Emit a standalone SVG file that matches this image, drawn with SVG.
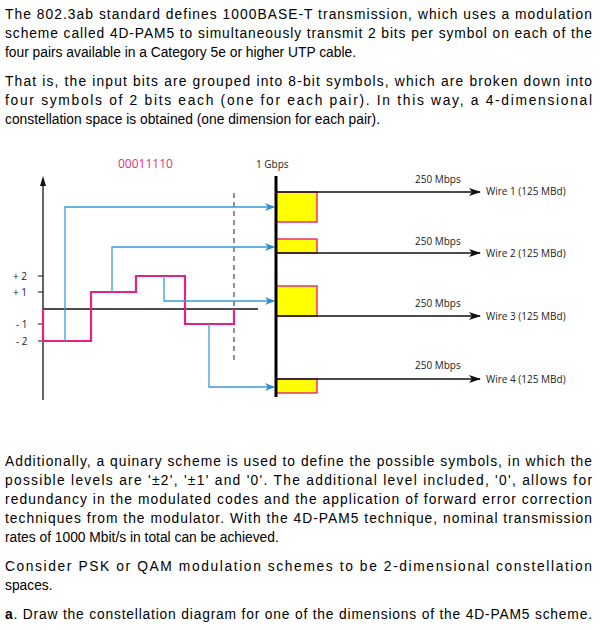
<svg xmlns="http://www.w3.org/2000/svg" width="606" height="630" viewBox="0 0 606 630">
<style>
.t{font-family:"Liberation Sans",Arial,sans-serif;font-size:13.8px;fill:#000}
.s{font-family:"Open Sans","Liberation Sans",sans-serif;font-size:10px;fill:#222}
.b{stroke:#3a9ad6;stroke-width:1.3;fill:none}
.w{stroke:#111;stroke-width:1.3;fill:none}
.y{fill:#ffff00;stroke:#e8307a;stroke-width:1.5}
</style>
<defs>
<marker id="ab" markerWidth="10" markerHeight="8" refX="9" refY="4" orient="auto" markerUnits="userSpaceOnUse"><path d="M0,0L10,4L0,8L3,4z" fill="#2a8ccc"/></marker>
<marker id="ak" markerWidth="12" markerHeight="8" refX="11" refY="4" orient="auto" markerUnits="userSpaceOnUse"><path d="M0,0L12,4L0,8L3,4z" fill="#111"/></marker>
</defs>
<rect width="606" height="630" fill="#fff"/>
<g id="text">
<text class="t" x="5" y="19" textLength="587" lengthAdjust="spacing">The 802.3ab standard defines 1000BASE-T transmission, which uses a modulation</text>
<text class="t" x="5" y="38" textLength="587" lengthAdjust="spacing">scheme called 4D-PAM5 to simultaneously transmit 2 bits per symbol on each of the</text>
<text class="t" x="5" y="57">four pairs available in a Category 5e or higher UTP cable.</text>
<text class="t" x="5" y="86" textLength="587" lengthAdjust="spacing">That is, the input bits are grouped into 8-bit symbols, which are broken down into</text>
<text class="t" x="5" y="105" textLength="587" lengthAdjust="spacing">four symbols of 2 bits each (one for each pair). In this way, a 4-dimensional</text>
<text class="t" x="5" y="124">constellation space is obtained (one dimension for each pair).</text>
<text class="t" x="5" y="466" textLength="587" lengthAdjust="spacing">Additionally, a quinary scheme is used to define the possible symbols, in which the</text>
<text class="t" x="5" y="485" textLength="587" lengthAdjust="spacing">possible levels are '±2', '±1' and '0'. The additional level included, '0', allows for</text>
<text class="t" x="5" y="504" textLength="587" lengthAdjust="spacing">redundancy in the modulated codes and the application of forward error correction</text>
<text class="t" x="5" y="523" textLength="587" lengthAdjust="spacing">techniques from the modulator. With the 4D-PAM5 technique, nominal transmission</text>
<text class="t" x="5" y="542">rates of 1000 Mbit/s in total can be achieved.</text>
<text class="t" x="5" y="571" textLength="587" lengthAdjust="spacing">Consider PSK or QAM modulation schemes to be 2-dimensional constellation</text>
<text class="t" x="5" y="590">spaces.</text>
<text class="t" x="5" y="619" textLength="587" lengthAdjust="spacing"><tspan font-weight="bold">a</tspan>. Draw the constellation diagram for one of the dimensions of the 4D-PAM5 scheme.</text>
</g>
<g id="axes">
<line x1="43" y1="400" x2="43" y2="180" class="w" stroke-width="1"/>
<path d="M43,176L40,186L46,186z" fill="#111"/>
<line x1="43" y1="309" x2="258" y2="309" class="w" stroke-width="1"/>
<g stroke="#111"><line x1="38" y1="276" x2="43" y2="276"/><line x1="38" y1="292" x2="43" y2="292"/><line x1="38" y1="324" x2="43" y2="324"/><line x1="38" y1="341" x2="43" y2="341"/></g>
<text class="s" x="13" y="280">+ 2</text><text class="s" x="13" y="296">+ 1</text>
<text class="s" x="16" y="328">- 1</text><text class="s" x="16" y="345">- 2</text>
<line x1="234" y1="193" x2="234" y2="360" stroke="#555" stroke-width="1.3" stroke-dasharray="5,4"/>
<text x="118" y="168" font-family="Open Sans,Liberation Sans,sans-serif" font-size="12" fill="#e0307a">00011110</text>
<text class="s" x="256" y="168">1 Gbps</text>
</g>
<g id="signal"><path d="M43,309V341H91V292H136V276H185V324H234V309" fill="none" stroke="#e8207f" stroke-width="2.2"/></g>
<g id="boxes">
<rect class="y" x="276" y="192" width="41" height="30"/>
<rect class="y" x="276" y="239" width="41" height="14"/>
<rect class="y" x="276" y="286" width="41" height="30"/>
<rect class="y" x="276" y="379" width="41" height="14"/>
</g>
<g id="connectors">
<path class="b" d="M65,341V207H274" marker-end="url(#ab)"/>
<path class="b" d="M112,292V247H274" marker-end="url(#ab)"/>
<path class="b" d="M164,276V301H274" marker-end="url(#ab)"/>
<path class="b" d="M209,324V387H274" marker-end="url(#ab)"/>
<line class="w" x1="276" y1="192" x2="480" y2="192" marker-end="url(#ak)"/>
<line class="w" x1="276" y1="253" x2="480" y2="253" marker-end="url(#ak)"/>
<line class="w" x1="276" y1="316" x2="480" y2="316" marker-end="url(#ak)"/>
<line class="w" x1="276" y1="379" x2="480" y2="379" marker-end="url(#ak)"/>
</g>
<line x1="276" y1="176" x2="276" y2="397" stroke="#000" stroke-width="3"/>
<g id="labels">
<text class="s" x="415" y="183">250 Mbps</text><text class="s" x="486" y="195">Wire 1 (125 MBd)</text>
<text class="s" x="415" y="245">250 Mbps</text><text class="s" x="486" y="257">Wire 2 (125 MBd)</text>
<text class="s" x="415" y="307">250 Mbps</text><text class="s" x="486" y="320">Wire 3 (125 MBd)</text>
<text class="s" x="415" y="369">250 Mbps</text><text class="s" x="486" y="383">Wire 4 (125 MBd)</text>
</g>
</svg>
